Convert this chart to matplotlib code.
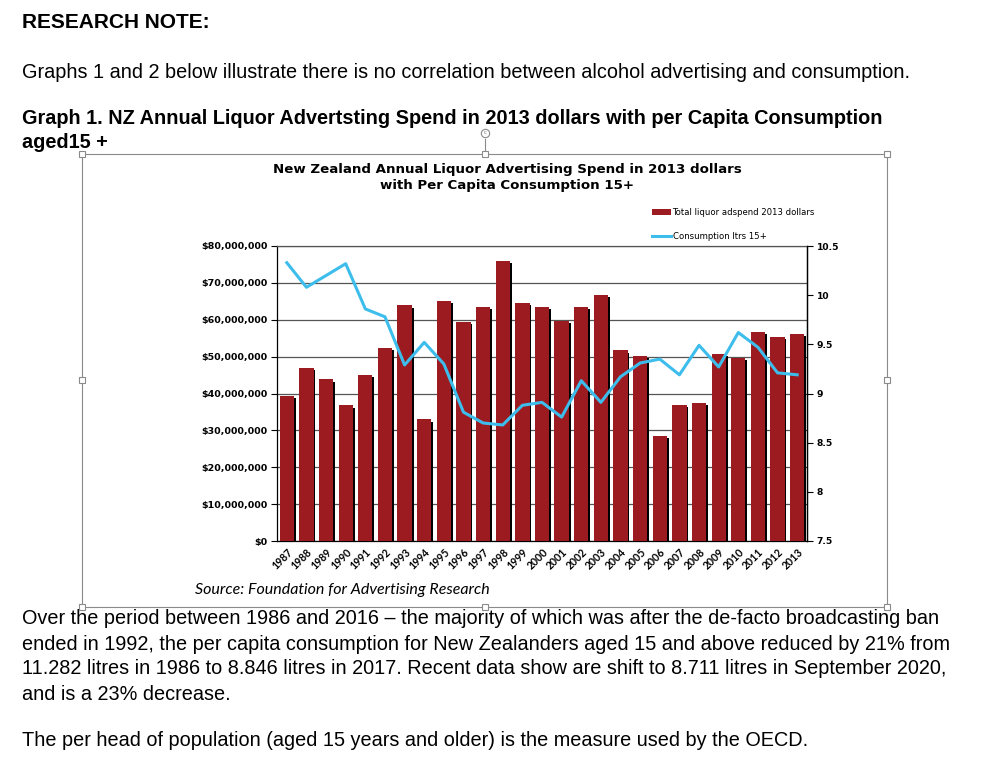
import matplotlib
matplotlib.use("Agg")
import matplotlib.pyplot as plt
from matplotlib.lines import Line2D
from matplotlib.patches import Rectangle
from matplotlib.ticker import FuncFormatter
import numpy as np

years = list(range(1987, 2014))
adspend = [39.3, 46.9, 43.8, 36.8, 45.1, 52.4, 63.9, 33.0, 65.2, 59.4, 63.4, 76.0,
           64.6, 63.5, 59.7, 63.4, 66.7, 51.7, 50.1, 28.4, 37.0, 37.5, 50.7, 49.7,
           56.7, 55.4, 56.1]  # millions, 2013 dollars
consumption = [10.33, 10.08, 10.20, 10.32, 9.86, 9.78, 9.29, 9.52, 9.30, 8.81, 8.70, 8.68,
               8.88, 8.91, 8.76, 9.13, 8.91, 9.17, 9.31, 9.35, 9.19, 9.49, 9.27, 9.62,
               9.47, 9.21, 9.19]
left_ticks = [0, 10e6, 20e6, 30e6, 40e6, 50e6, 60e6, 70e6, 80e6]
right_ticks = [7.5, 8, 8.5, 9, 9.5, 10, 10.5]

W, H = 982, 782
def fx(px):
    return px / W
def fy(py):
    return 1 - py / H

fig = plt.figure(figsize=(W / 100, H / 100), dpi=100)
fig.patch.set_facecolor("white")

doc = "Liberation Sans"
fs = 14.3
fig.text(fx(22), fy(22), "RESEARCH NOTE:", family=doc, fontsize=15, weight="bold", va="center")
fig.text(fx(22), fy(73), "Graphs 1 and 2 below illustrate there is no correlation between alcohol advertising and consumption.",
         family=doc, fontsize=fs, va="center")
fig.text(fx(22), fy(119), "Graph 1. NZ Annual Liquor Advertsting Spend in 2013 dollars with per Capita Consumption",
         family=doc, fontsize=fs, weight="bold", va="center")
fig.text(fx(22), fy(143), "aged15 +", family=doc, fontsize=fs, weight="bold", va="center")

para = ["Over the period between 1986 and 2016 \u2013 the majority of which was after the de-facto broadcasting ban",
        "ended in 1992, the per capita consumption for New Zealanders aged 15 and above reduced by 21% from",
        "11.282 litres in 1986 to 8.846 litres in 2017. Recent data show are shift to 8.711 litres in September 2020,",
        "and is a 23% decrease."]
for i, line in enumerate(para):
    fig.text(fx(22), fy(619 + 25 * i), line, family=doc, fontsize=fs, va="center")
fig.text(fx(22), fy(741), "The per head of population (aged 15 years and older) is the measure used by the OECD.",
         family=doc, fontsize=fs, va="center")

# selection frame around the embedded chart
fig.add_artist(Rectangle((fx(82), fy(607)), fx(887) - fx(82), fy(154) - fy(607),
                         transform=fig.transFigure, fill=False, ec="#8a8a8a", lw=0.8, zorder=5))
fig.add_artist(Line2D([fx(485), fx(485)], [fy(139), fy(154)], transform=fig.transFigure,
                      color="#8a8a8a", lw=0.8, zorder=5))
fig.add_artist(Line2D([fx(485)], [fy(133)], transform=fig.transFigure, marker="o", ms=6,
                      mfc="white", mec="#8a8a8a", mew=0.8, zorder=6))
fig.text(fx(485), fy(133), "c", fontsize=4, ha="center", va="center", color="#777", zorder=7)
hx = [82, 485, 887, 82, 887, 82, 485, 887]
hy = [154, 154, 154, 380, 380, 607, 607, 607]
fig.add_artist(Line2D([fx(v) for v in hx], [fy(v) for v in hy], transform=fig.transFigure,
                      ls="none", marker="s", ms=5, mfc="white", mec="#8a8a8a", mew=0.8, zorder=6))

# chart
fig.text(fx(507), fy(170), "New Zealand Annual Liquor Advertising Spend in 2013 dollars",
         family="DejaVu Sans", fontsize=9.6, weight="bold", ha="center", va="center")
fig.text(fx(507), fy(186), "with Per Capita Consumption 15+",
         family="DejaVu Sans", fontsize=9.6, weight="bold", ha="center", va="center")

ax = fig.add_axes([fx(277), fy(541), fx(807) - fx(277), fy(246) - fy(541)])
x = np.arange(len(years))
vals = np.array(adspend) * 1e6
ax.bar(x + 0.09, vals - 0.6e6, width=0.73, color="black", zorder=2)
bars = ax.bar(x, vals, width=0.73, color="#9b1b20", zorder=3)
ax.set_xlim(-0.5, len(years) - 0.5)
ax.set_ylim(0, 80e6)
ax.set_yticks(left_ticks)
ax.yaxis.set_major_formatter(FuncFormatter(lambda v, p: "${:,.0f}".format(v)))
ax.yaxis.grid(True, color="#555555", lw=0.9, zorder=0)
ax.set_axisbelow(True)
ax.set_xticks(x)
ax.set_xticklabels([str(y) for y in years], rotation=45, ha="right", va="top",
                   rotation_mode="anchor", family="Lato", fontsize=7.6, weight="bold")
ax.tick_params(axis="x", length=0, pad=4)
ax.tick_params(axis="y", direction="out", length=4, width=0.8, labelsize=6.8, pad=3)
for t in ax.get_yticklabels():
    t.set_fontweight("bold")
    t.set_family("DejaVu Sans")
ax.spines["top"].set_color("#555555")
ax.spines["top"].set_linewidth(0.9)
for s in ["left", "bottom", "right"]:
    ax.spines[s].set_color("black")
    ax.spines[s].set_linewidth(0.9)

ax2 = ax.twinx()
line, = ax2.plot(x, consumption, color="#3dbdec", lw=2.2, zorder=4)
ax2.set_ylim(7.5, 10.5)
ax2.set_yticks(right_ticks)
ax2.set_yticklabels(["7.5", "8", "8.5", "9", "9.5", "10", "10.5"], family="DejaVu Sans",
                    fontsize=6.6, weight="bold")
ax2.tick_params(axis="y", direction="out", length=4, width=0.8, pad=3)
for s in ["left", "bottom", "top"]:
    ax2.spines[s].set_visible(False)
ax2.spines["right"].set_color("black")
ax2.spines["right"].set_linewidth(0.9)

fig.legend([bars, line], ["Total liquor adspend 2013 dollars", "Consumption ltrs 15+"],
           loc="upper left", bbox_to_anchor=(fx(648), fy(204)), frameon=False,
           prop={"family": "DejaVu Sans", "size": 6.1}, borderpad=0, handlelength=2.2,
           handletextpad=0.2, labelspacing=1.75)

fig.text(fx(195), fy(590), "Source: Foundation for Advertising Research", family="Lato",
         style="italic", fontsize=11.5, va="center")

fig.savefig("out.png", dpi=100, facecolor="white")
